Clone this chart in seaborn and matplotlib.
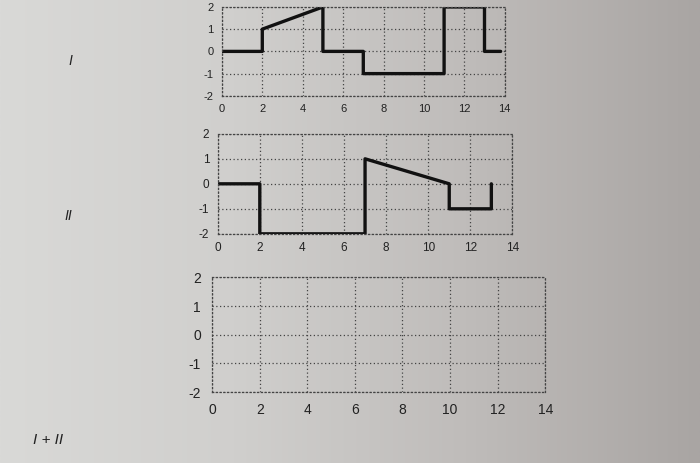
import numpy as np
import pandas as pd
import matplotlib
matplotlib.use("Agg")
import matplotlib.pyplot as plt
import seaborn as sns

sns.set_theme(style="white")
plt.rcParams['font.family'] = ['Liberation Sans', 'DejaVu Sans']
plt.rcParams['axes.unicode_minus'] = False

# ---------- DATA ----------
# signal I
t1 = [0, 2, 2, 5, 5, 7, 7, 11, 11, 13, 13, 13.8]
y1 = [0, 0, 1, 2, 0, 0, -1, -1, 2, 2, 0, 0]

# signal II (middle graph)
t2 = [0, 2, 2, 7, 7, 11, 11, 13, 13]
y2 = [0, 0, -2, -2, 1, 0, -1, -1, 0]

x_ticks = [0, 2, 4, 6, 8, 10, 12, 14]
y_ticks = [-2, -1, 0, 1, 2]
row_labels = ["I", "II", "I + II"]

df1 = pd.DataFrame({"t": t1, "v": y1})
df2 = pd.DataFrame({"t": t2, "v": y2})

fig = plt.figure(figsize=(7, 4.63), dpi=100)

# paper background, lighter on the left like the photo
bg = fig.add_axes([0, 0, 1, 1], zorder=-10)
grad = np.linspace(0, 1, 256)[None, :]
paper = matplotlib.colors.LinearSegmentedColormap.from_list(
    "paper", ["#d9d9d7", "#d0cfcd", "#bfbcba", "#a9a5a3"])
bg.imshow(grad, aspect="auto", cmap=paper, extent=[0, 1, 0, 1])
bg.axis("off")

boxes = [
    [0.317, 0.793, 0.404, 0.192],
    [0.311, 0.495, 0.421, 0.216],
    [0.303, 0.153, 0.476, 0.248],
]
sizes = [8, 8.5, 10]
pads = [6, 6, 8]
dots = (0, (1, 2))
axes = []
for box, fs, pd_ in zip(boxes, sizes, pads):
    ax = fig.add_axes(box)
    ax.set_facecolor("none")
    ax.set_xlim(0, 14)
    ax.set_ylim(-2, 2)
    ax.set_xticks(x_ticks)
    ax.set_yticks(y_ticks)
    ax.grid(True, linestyle=dots, color="#444444", linewidth=0.9)
    for s in ax.spines.values():
        s.set_linestyle(dots)
        s.set_color("#444444")
        s.set_linewidth(0.9)
    ax.tick_params(length=0, labelsize=fs, colors="#222222", pad=pd_)
    axes.append(ax)

sns.lineplot(data=df1, x="t", y="v", sort=False, estimator=None,
             color="#111111", linewidth=2.4, ax=axes[0])
sns.lineplot(data=df2, x="t", y="v", sort=False, estimator=None,
             color="#111111", linewidth=2.4, ax=axes[1])
for ax in axes:
    ax.set_xlabel("")
    ax.set_ylabel("")
    ax.set_xlim(0, 14)
    ax.set_ylim(-2, 2)

# row labels on the left
fig.text(0.1, 0.868, row_labels[0], fontsize=10, style="italic", color="#222222",
         ha="center", va="center")
fig.text(0.097, 0.533, row_labels[1], fontsize=10, style="italic", color="#222222",
         ha="center", va="center")
fig.text(0.069, 0.05, row_labels[2], fontsize=11, style="italic", color="#222222",
         ha="center", va="center")

fig.savefig("out.png", dpi=100)
